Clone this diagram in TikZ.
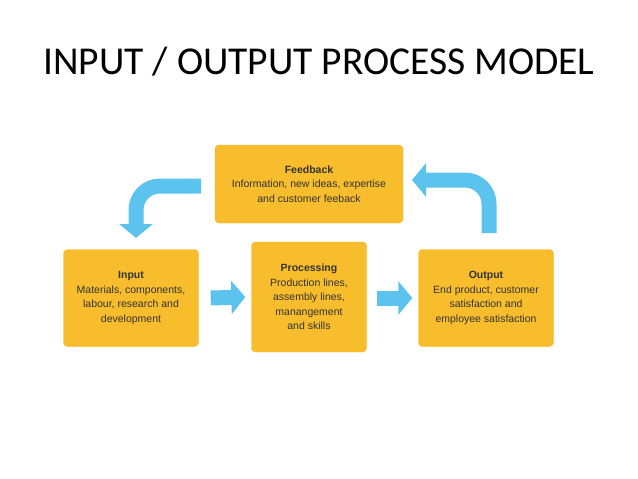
\documentclass[tikz,border=0pt]{standalone}
\usepackage{fontspec}
\setmainfont{Liberation Sans}
\newfontfamily\titlefont{Carlito}
\usetikzlibrary{arrows.meta}
\definecolor{boxy}{HTML}{F7BD2C}
\definecolor{arrb}{HTML}{5CC3EE}
\tikzset{
  box/.style={draw=boxy!85!orange, fill=boxy, rounded corners=4pt, align=center, inner sep=0pt, font=\fontsize{10.5}{14.5}\selectfont, text=black!80},
  fat/.style={draw=arrb, line width=15pt, -{Triangle[width=33pt,length=14pt]}},
}
\begin{document}
\begin{tikzpicture}[x=1pt,y=-1pt]
\useasboundingbox (0,0) rectangle (638,479);
\node[font=\titlefont\fontsize{39.5}{44}\selectfont] (title) at (319,62) {INPUT / OUTPUT PROCESS MODEL};
\node[box, minimum width=188, minimum height=78] (fb) at (309,184) {\textbf{Feedback}\\Information, new ideas, expertise\\and customer feeback};
\node[box, minimum width=135, minimum height=97] (in) at (131,298) {\textbf{Input}\\Materials, components,\\labour, research and\\development};
\node[box, minimum width=115, minimum height=110] (pr) at (309,297) {\textbf{Processing}\\Production lines,\\assembly lines,\\manangement\\and skills};
\node[box, minimum width=135, minimum height=97] (out) at (486,298) {\textbf{Output}\\End product, customer\\satisfaction and\\employee satisfaction};
\draw[fat] ([xshift=12pt]in.east) -- ([xshift=-6pt]pr.west);
\draw[fat] ([xshift=10pt]pr.east |- out.east) -- ([xshift=-6pt]out.west);
\coordinate (l1) at (201,186);
\coordinate (l2) at (136,238);
\draw[fat, rounded corners=24pt] (l1) -- (136,186) -- (l2);
\coordinate (r1) at (489,233);
\coordinate (r2) at (412,180);
\draw[fat, rounded corners=24pt] (r1) -- (489,180) -- (r2);
\end{tikzpicture}
\end{document}
